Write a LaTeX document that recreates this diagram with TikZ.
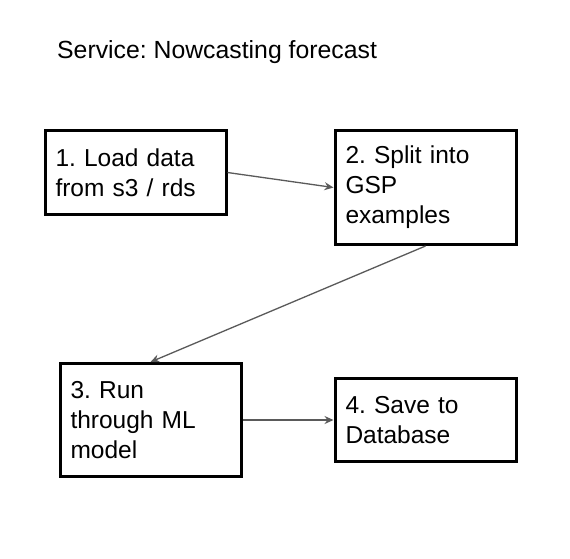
\documentclass[tikz,border=0pt]{standalone}
\usepackage{fontspec}
\setmainfont{Liberation Sans}
\usetikzlibrary{arrows.meta}
\definecolor{arrowgray}{HTML}{5A5A5A}
\tikzset{
  stepbox/.style={draw=black, line width=3pt, rectangle, fill=white,
    text width=160pt, inner xsep=10.5pt, inner ysep=0pt, align=left,
    font=\fontsize{24.5}{30}\selectfont\frenchspacing, text=black},
  flow/.style={draw=arrowgray, line width=1.3pt,
    -{Stealth[length=9pt,width=8pt,inset=3pt]}},
  titletext/.style={font=\fontsize{24.8}{30}\selectfont\frenchspacing, inner sep=0pt, text=black}
}
\begin{document}
\frenchspacing
\begin{tikzpicture}[x=1pt,y=-1pt]
\useasboundingbox[fill=white] (0,0) rectangle (570,558);
\node[titletext, anchor=base west] (title) at (57,58) {Service: Nowcasting forecast};
\node[stepbox, minimum height=84pt] (b1) at (135.5,172.5) {1. Load data\\from s3 / rds};
\node[stepbox, minimum height=114pt] (b2) at (425.5,187.5) {2. Split into\\GSP\\examples};
\node[stepbox, minimum height=113pt] (b3) at (150.5,420) {3. Run\\through ML\\model};
\node[stepbox, minimum height=83pt] (b4) at (425.5,420) {4. Save to\\Database};
\draw[flow] (b1.east) -- (b2.west);
\draw[flow] (b2.south) -- (b3.north);
\draw[flow] (b3.east) -- (b4.west);
\end{tikzpicture}
\end{document}
